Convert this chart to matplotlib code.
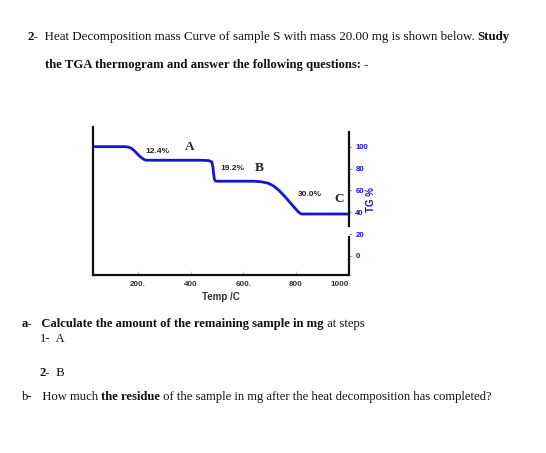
import matplotlib
matplotlib.use("Agg")
import matplotlib.pyplot as plt

# ---- data ----
temp_c = [30, 150, 165, 175, 185, 195, 205, 215, 225, 232,
          440, 470, 480, 484, 487, 490, 494, 500,
          640, 670, 695, 715, 735, 755, 775, 795, 810, 820, 1001]
mass_pct = [100, 100, 99.5, 98.5, 96.5, 94, 91.5, 89.5, 88, 87.6,
            87.6, 87.2, 86, 82, 75, 70, 68.6, 68.4,
            68.4, 67.8, 66.5, 64, 60, 55, 49.5, 44, 40, 38.4, 38.4]
x_ticks = [200, 400, 600, 800, 1000]
x_tick_labels = ["200.", "400", "600.", "800", "1000"]
y_ticks = [0, 20, 40, 60, 80, 100]
y_tick_labels = ["0", "20", "40", "60", "80", "100"]
step_labels = ["12.4%", "19.2%", "30.0%"]
step_label_x = [272, 557, 853]
step_label_y = [96, 79.6, 55.8]
step_names = ["A", "B", "C"]
step_name_x = [397, 659, 963]
step_name_y = [99.7, 80.5, 52]

W, H = 546, 453
fig = plt.figure(figsize=(W / 100, H / 100), dpi=100)

def fx(px):
    return px / W

def fy(py):
    return 1 - py / H

BLUE = "#1414d2"
SERIF = "Liberation Serif"
SANS = "Liberation Sans"
TXT = "#111111"

ax = fig.add_axes([fx(93), fy(275), fx(349) - fx(93), fy(127) - fy(275)])
ax.plot(temp_c, mass_pct, color=BLUE, lw=2.0, solid_capstyle="butt")
ax.set_xlim(29, 1001)
ax.set_ylim(-17.4, 118)

for s in ["top", "right"]:
    ax.spines[s].set_visible(False)
for s in ["left", "bottom"]:
    ax.spines[s].set_linewidth(1.6)
    ax.spines[s].set_color("#111111")
tr = ax.get_yaxis_transform()
ax.plot([1, 1], [27.4, 113.7], transform=tr, color="#111111", lw=1.6, clip_on=False)
ax.plot([1, 1], [-17.4, 17.4], transform=tr, color="#111111", lw=1.6, clip_on=False)

ax.set_xticks(x_ticks)
ax.set_xticklabels(x_tick_labels, fontsize=5.8, family=SANS, weight="bold", color="#333333")
ax.get_xticklabels()[-1].set_horizontalalignment("right")
ax.tick_params(axis="x", direction="in", length=3, width=0.6, color="#bbbbbb", pad=4)
ax.yaxis.tick_right()
ax.set_yticks(y_ticks)
ax.set_yticklabels(y_tick_labels, fontsize=5.6, family=SANS, weight="bold", color=BLUE)
ax.tick_params(axis="y", direction="out", length=1.5, width=0.6, color="#555555", pad=3)
ax.set_xlabel("Temp /C", fontsize=7, family=SANS, weight="bold", color="#333333", labelpad=3)
fig.text(fx(371), fy(200), "TG %", rotation=90, ha="center", va="center",
         fontsize=7, family=SANS, weight="bold", color=BLUE)

for s, x, y in zip(step_labels, step_label_x, step_label_y):
    ax.text(x, y, s, ha="center", va="center", fontsize=6, family=SANS,
            weight="bold", color="#222222")
for s, x, y in zip(step_names, step_name_x, step_name_y):
    ax.text(x, y, s, ha="center", va="center", fontsize=9.5, family=SERIF,
            weight="bold", color="#222222")


def line(x, y, parts, size):
    first = fig.text(x, y, parts[0][0], ha="left", va="center", fontsize=size,
                     family=SERIF, weight=parts[0][1], color=TXT)
    prev = first
    for s, w in parts[1:]:
        prev = ax.annotate(s, xy=(1, 0), xycoords=prev, ha="left", va="bottom",
                           fontsize=size, family=SERIF, weight=w, color=TXT,
                           annotation_clip=False)
    return first

line(fx(27), fy(37), [("2-", "bold"), ("  Heat Decomposition mass Curve of sample S with mass 20.00 mg is shown below. ", "normal"), ("Study", "bold")], 9.35)
line(fx(45), fy(65), [("the TGA thermogram and answer the following questions: -", "bold")], 9.2)
line(fx(22), fy(324), [("a-", "bold"), ("   Calculate the amount of the remaining sample in mg", "bold"), (" at steps", "normal")], 9.1)
line(fx(40), fy(339), [("1-", "normal"), ("  A", "normal")], 9.1)
line(fx(40), fy(373), [("2-", "bold"), ("  B", "normal")], 9.1)
line(fx(22), fy(397), [("b-", "normal"), ("   How much ", "normal"), ("the residue", "bold"), (" of the sample in mg after the heat decomposition has completed?", "normal")], 9.1)

fig.savefig("out.png", dpi=100, facecolor="white")
